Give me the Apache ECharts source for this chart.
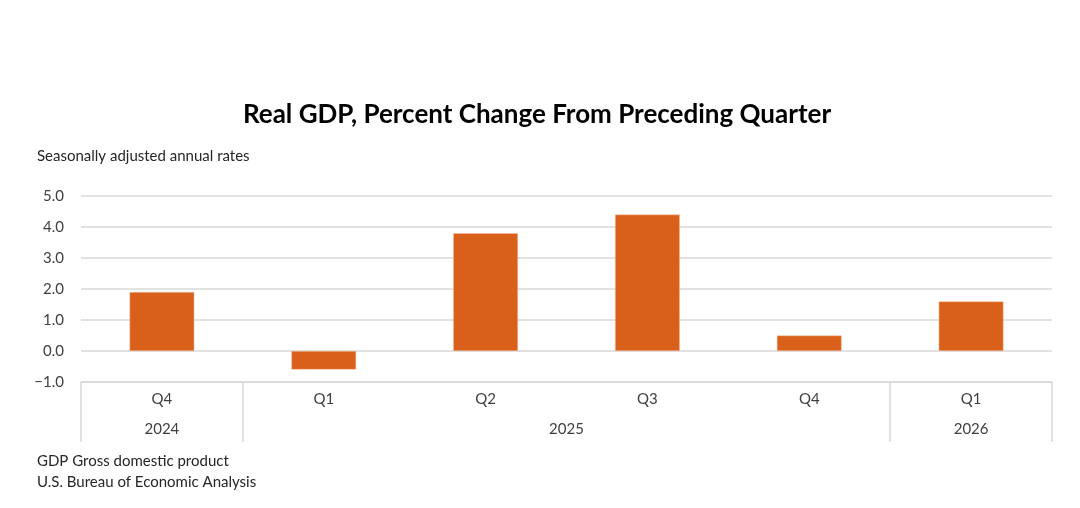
<!DOCTYPE html>
<html>
<head>
<meta charset="utf-8">
<script src="https://cdn.jsdelivr.net/npm/echarts@6/dist/echarts.min.js"></script>
<style>
  html, body { margin: 0; padding: 0; background: #fff; }
  #chart { width: 1080px; height: 508px; }
</style>
</head>
<body>
<div id="chart"></div>
<script>
// quarters along the axis
var quarters = ['Q4', 'Q1', 'Q2', 'Q3', 'Q4', 'Q1'];
// percent change, SAAR
var gdpChange = [1.9, -0.6, 3.8, 4.4, 0.5, 1.6];
// year groups and how many quarters each spans
var years = ['2024', '2025', '2026'];
var yearSpans = [1, 4, 1];

var FONT = 'Lato, "Open Sans", sans-serif';
var BAR = '#D9601A';
var LINE = '#D9D9D9';

// centres and edges of the year groups, in quarter units
var yearCenters = [], yearEdges = [0], acc = 0;
yearSpans.forEach(function (n) {
    yearCenters.push(acc + n / 2);
    acc += n;
    yearEdges.push(acc);
});

var chart = echarts.init(document.getElementById('chart'));

var option = {
    animation: false,
    title: {
        text: 'Real GDP, Percent Change From Preceding Quarter',
        left: 532,
        top: 97,
        textAlign: 'center',
        textStyle: { fontFamily: FONT, fontSize: 26, fontWeight: 'bold', color: '#000' }
    },
    graphic: [
        { type: 'text', left: 37, top: 149,
          style: { text: 'Seasonally adjusted annual rates', font: '15px ' + FONT, fill: '#262626' } },
        { type: 'text', left: 37, top: 454,
          style: { text: 'GDP Gross domestic product', font: '15px ' + FONT, fill: '#262626' } },
        { type: 'text', left: 37, top: 475,
          style: { text: 'U.S. Bureau of Economic Analysis', font: '15px ' + FONT, fill: '#262626' } }
    ],
    grid: { left: 81, right: 28, top: 196, bottom: 126, containLabel: false },
    xAxis: [{
        type: 'category',
        data: quarters,
        axisLine: { onZero: false, lineStyle: { color: LINE, width: 1.5 } },
        axisTick: { show: false },
        axisLabel: { fontFamily: FONT, fontSize: 15, color: '#404040', margin: 10 }
    }, {
        type: 'value',
        position: 'bottom',
        min: 0,
        max: acc,
        axisLine: { show: false, onZero: false },
        splitLine: { show: false },
        axisTick: { show: true, customValues: yearEdges, length: 60, lineStyle: { color: LINE, width: 1.5 } },
        axisLabel: {
            customValues: yearCenters,
            fontFamily: FONT, fontSize: 15, color: '#404040', margin: 40,
            formatter: function (v) { return years[yearCenters.indexOf(v)]; }
        }
    }],
    yAxis: {
        type: 'value',
        min: -1,
        max: 5,
        interval: 1,
        axisLine: { show: false },
        axisTick: { show: false },
        splitLine: { lineStyle: { color: LINE, width: 1.5 } },
        axisLabel: {
            fontFamily: FONT, fontSize: 15, color: '#404040', margin: 17,
            formatter: function (v) { return (v < 0 ? '\u2212' : '') + Math.abs(v).toFixed(1); }
        }
    },
    series: [{
        type: 'bar',
        data: gdpChange,
        barWidth: '40%',
        itemStyle: { color: BAR, borderColor: '#F2C2A6', borderWidth: 0.5 }
    }]
};

chart.setOption(option);
</script>
</body>
</html>
